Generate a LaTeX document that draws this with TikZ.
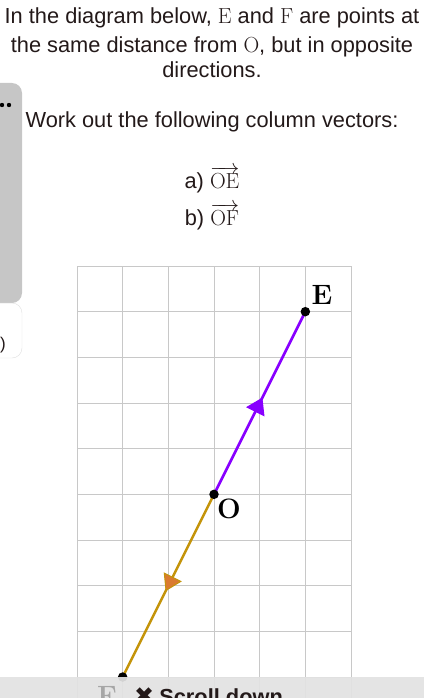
\documentclass[tikz,border=0pt]{standalone}
\usepackage{fix-cm}
\usepackage[no-math]{fontspec}
\setmainfont{Liberation Sans}
\newfontfamily\symfont{DejaVu Sans}
\usetikzlibrary{arrows.meta,decorations.markings}
\definecolor{inktext}{RGB}{35,25,25}
\definecolor{gridgray}{RGB}{200,200,200}
\definecolor{vecpurple}{RGB}{136,0,255}
\definecolor{vecgold}{RGB}{196,148,10}
\definecolor{headorange}{RGB}{218,122,48}
\definecolor{bargray}{RGB}{226,226,226}
\definecolor{panelgray}{RGB}{198,198,198}

\begin{document}
\begin{tikzpicture}[x=1pt,y=-1pt,every node/.style={inner sep=0pt,text=inktext},
    body/.style={font=\fontsize{21.8}{25}\selectfont,anchor=base},
    ptlabel/.style={font=\fontsize{28}{30}\selectfont,text=black},
    dot/.style={circle,fill=black,minimum size=9.5pt},
    tovecE/.style={vecpurple,line width=2.6pt,postaction={decorate},
        decoration={markings,mark=at position 0.53 with {\arrow{Triangle[length=16pt,width=20pt]}}}},
    tovecF/.style={vecgold,line width=2.4pt,postaction={decorate},
        decoration={markings,mark=at position 0.53 with {\arrow{Triangle[length=16pt,width=20pt,fill=headorange,line width=1pt]}}}}]
    \useasboundingbox (0,0) rectangle (424,698);
    % side panel of the page
    \fill[panelgray,rounded corners=10pt] (-15,83) rectangle (22,303);
    \fill[black] (2,105) circle (2.2) (9,105) circle (2.2);
    \draw[gray!25,rounded corners=10pt] (-15,303) rectangle (22,358);
    \node[body,font=\fontsize{17}{18}\selectfont] (sidemark) at (3,349) {)};
    % question text
    \node[body] (line1) at (212,24) {In the diagram below, $\mathrm{E}$ and $\mathrm{F}$ are points at};
    \node[body] (line2) at (212,53) {the same distance from $\mathrm{O}$, but in opposite};
    \node[body] (line3) at (212,78) {directions.};
    \node[body] (task) at (212,128) {Work out the following column vectors:};
    \node[body] (partA) at (212,188) {a) $\overrightarrow{\mathrm{OE}}$};
    \node[body] (partB) at (212,225) {b) $\overrightarrow{\mathrm{OF}}$};
    % grid and vectors
    \begin{scope}[shift={(77,266)},x=45.67pt,y=-45.67pt]
        \draw[gridgray,line width=1pt,xstep=45.67pt,ystep=45.67pt] (0,0) grid (6,9.5);
        \draw[gridgray,line width=1pt] (0,9.5) -- (0,0) -- (6,0) -- (6,9.5);
        \coordinate (O) at (3,5);
        \coordinate (E) at (5,1);
        \coordinate (F) at (1,9);
        \draw[tovecE] (O) -- (E);
        \draw[tovecF] (O) -- (F);
        \node[dot] (dotE) at (E) {};
        \node[dot] (dotO) at (O) {};
        \node[dot] (dotF) at (F) {};
    \end{scope}
    \node[ptlabel] (labE) at (322,295) {$\mathbf{E}$};
    \node[ptlabel] (labO) at (229,509) {$\mathbf{O}$};
    % scroll bar at the bottom
    \fill[bargray,opacity=0.93] (0,677) rectangle (424,698);
    \node[ptlabel,text=black!35] (labF) at (107,696) {$\mathbf{F}$};
    \node[body,font=\fontsize{21.8}{25}\selectfont\bfseries,anchor=base west] (scroll) at (134,704) {{\symfont\fontsize{24}{26}\selectfont ✖}\hspace{5pt}Scroll down};
\end{tikzpicture}
\end{document}
